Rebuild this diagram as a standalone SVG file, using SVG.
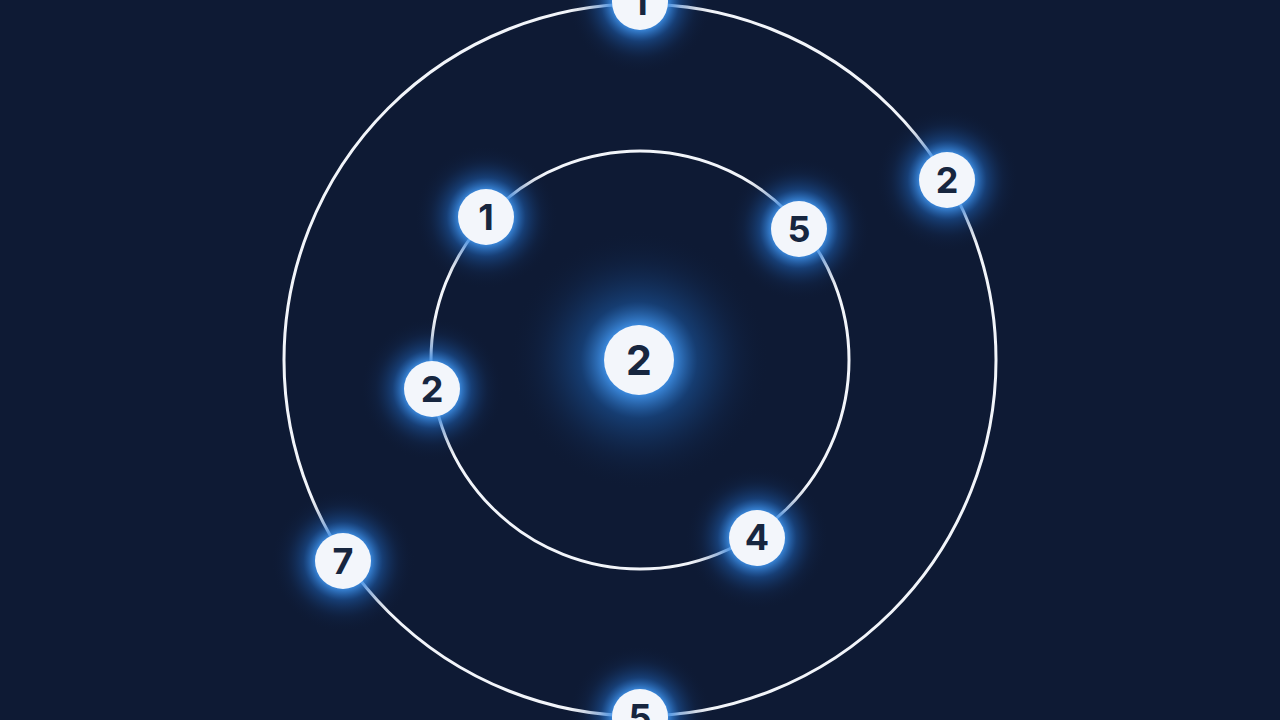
<svg xmlns="http://www.w3.org/2000/svg" width="1280" height="720" viewBox="0 0 1280 720">
  <defs>
    <radialGradient id="glowS" cx="0.5" cy="0.5" r="0.5">
      <stop offset="0.38" stop-color="#3f93ec" stop-opacity="0.9"/>
      <stop offset="0.55" stop-color="#2169c2" stop-opacity="0.45"/>
      <stop offset="0.78" stop-color="#173f7a" stop-opacity="0.15"/>
      <stop offset="1" stop-color="#0e1a34" stop-opacity="0"/>
    </radialGradient>
    <radialGradient id="glowC" cx="0.5" cy="0.5" r="0.5">
      <stop offset="0.27" stop-color="#3f93ec" stop-opacity="0.9"/>
      <stop offset="0.45" stop-color="#1d5fae" stop-opacity="0.5"/>
      <stop offset="0.75" stop-color="#163d75" stop-opacity="0.18"/>
      <stop offset="1" stop-color="#0e1a34" stop-opacity="0"/>
    </radialGradient>
    <style>
      .ring { fill: none; stroke: #f2f5fa; stroke-width: 3; }
      .node { fill: #f3f6fb; }
      .lbl { font-family: "Inter", "Open Sans", "Liberation Sans", sans-serif; font-weight: 700; fill: #17263f; text-anchor: middle; dominant-baseline: central; }
      .s { font-size: 36px; }
      .c { font-size: 41px; }
    </style>
  </defs>
  <rect width="1280" height="720" fill="#0e1a34"/>
  <g id="connectors">
    <circle class="ring" cx="640" cy="360" r="356"/>
    <circle class="ring" cx="640" cy="360" r="209"/>
  </g>
  <g id="node-center">
    <circle cx="639" cy="360" r="130" fill="url(#glowC)"/>
    <circle class="node" cx="639" cy="360" r="35"/>
    <text class="lbl c" x="639" y="360">2</text>
  </g>
  <g id="node-inner-1">
    <circle cx="486" cy="217" r="72" fill="url(#glowS)"/>
    <circle class="node" cx="486" cy="217" r="28"/>
    <text class="lbl s" x="486" y="217">1</text>
  </g>
  <g id="node-inner-5">
    <circle cx="799" cy="229" r="72" fill="url(#glowS)"/>
    <circle class="node" cx="799" cy="229" r="28"/>
    <text class="lbl s" x="799" y="229">5</text>
  </g>
  <g id="node-inner-2">
    <circle cx="432" cy="389" r="72" fill="url(#glowS)"/>
    <circle class="node" cx="432" cy="389" r="28"/>
    <text class="lbl s" x="432" y="389">2</text>
  </g>
  <g id="node-inner-4">
    <circle cx="757" cy="538" r="72" fill="url(#glowS)"/>
    <circle class="node" cx="757" cy="538" r="28"/>
    <text class="lbl s" x="757" y="537">4</text>
  </g>
  <g id="node-outer-1">
    <circle cx="640" cy="2" r="72" fill="url(#glowS)"/>
    <circle class="node" cx="640" cy="2" r="28"/>
    <text class="lbl s" x="640" y="2">1</text>
  </g>
  <g id="node-outer-2">
    <circle cx="947" cy="180" r="72" fill="url(#glowS)"/>
    <circle class="node" cx="947" cy="180" r="28"/>
    <text class="lbl s" x="947" y="180">2</text>
  </g>
  <g id="node-outer-7">
    <circle cx="343" cy="561" r="72" fill="url(#glowS)"/>
    <circle class="node" cx="343" cy="561" r="28"/>
    <text class="lbl s" x="343" y="561">7</text>
  </g>
  <g id="node-outer-5">
    <circle cx="640" cy="717" r="72" fill="url(#glowS)"/>
    <circle class="node" cx="640" cy="717" r="28"/>
    <text class="lbl s" x="640" y="717">5</text>
  </g>
</svg>
